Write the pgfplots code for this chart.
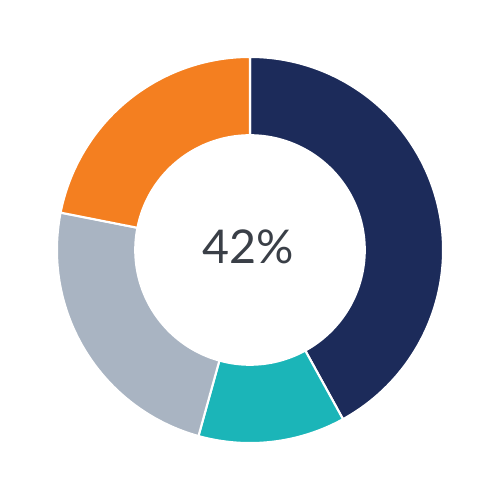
\documentclass[border=0pt]{standalone}
\usepackage{pgfplots}
\pgfplotsset{compat=1.18}
\usepackage{fontspec}
\setmainfont{Lato}

\definecolor{navy}{HTML}{1C2B5A}
\definecolor{teal}{HTML}{1BB5B8}
\definecolor{slate}{HTML}{A9B4C2}
\definecolor{orng}{HTML}{F47F20}
\definecolor{txt}{HTML}{3A3F47}

% shares in percent, clockwise from the top
\def\pA{42}
\def\pB{12.3}
\def\pC{23.8}
\def\pD{21.9}

\begin{document}
\begin{tikzpicture}
\pgfmathsetmacro\aA{90}
\pgfmathsetmacro\aB{\aA-3.6*\pA}
\pgfmathsetmacro\aC{\aB-3.6*\pB}
\pgfmathsetmacro\aD{\aC-3.6*\pC}
\pgfmathsetmacro\aE{\aD-3.6*\pD}
\begin{axis}[
    hide axis,
    scale only axis,
    width=10cm, height=10cm,
    xmin=-1.295, xmax=1.295,
    ymin=-1.295, ymax=1.295,
    clip=false,
    wedge/.style={draw=white, line width=1.2pt, samples=120},
  ]
  \path (rel axis cs:0,0) rectangle (rel axis cs:1,1);
  \addplot[wedge, fill=navy, domain=\aB:\aA] ({cos(x)},{sin(x)}) -- (axis cs:0,0) -- cycle;
  \addplot[wedge, fill=teal, domain=\aC:\aB] ({cos(x)},{sin(x)}) -- (axis cs:0,0) -- cycle;
  \addplot[wedge, fill=slate, domain=\aD:\aC] ({cos(x)},{sin(x)}) -- (axis cs:0,0) -- cycle;
  \addplot[wedge, fill=orng, domain=\aE:\aD] ({cos(x)},{sin(x)}) -- (axis cs:0,0) -- cycle;
  % hole of the donut
  \addplot[fill=white, draw=none, samples=200, domain=0:360] ({0.6*cos(x)},{0.6*sin(x)}) -- cycle;
  \node[text=txt, font=\fontsize{26.5}{30}\selectfont] at (axis cs:-0.01,0.015) {42\%};
\end{axis}
\end{tikzpicture}
\end{document}
